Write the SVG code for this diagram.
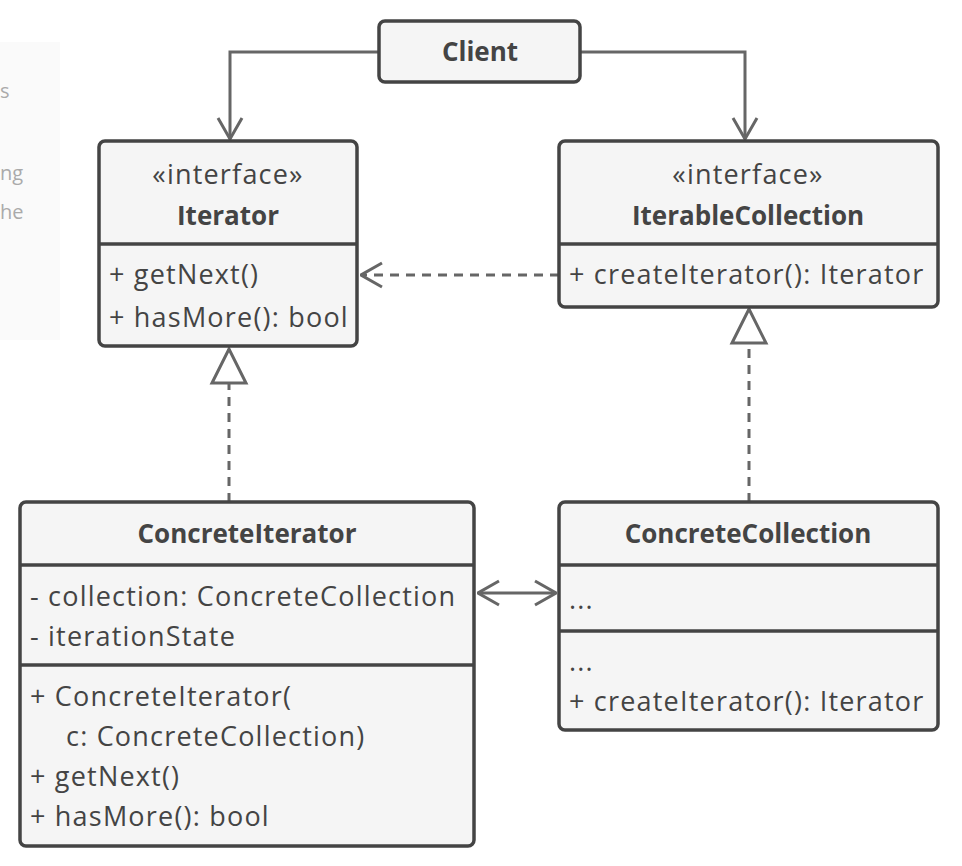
<svg xmlns="http://www.w3.org/2000/svg" width="962" height="866" viewBox="0 0 962 866">
<style>
.box{fill:#f5f5f5;stroke:#444;stroke-width:3.5}
.div{stroke:#444;stroke-width:3.5}
.t{font-family:"Open Sans","DejaVu Sans",sans-serif;font-size:27px;fill:#444;letter-spacing:1.2px}
.b{font-size:26px;font-weight:bold;text-anchor:middle;letter-spacing:0}
.c{text-anchor:middle}
.ln{fill:none;stroke:#666;stroke-width:3}
.d{stroke-dasharray:9 7}
.f{font-family:"Open Sans",sans-serif;font-size:20px;fill:#aaa}
</style>
<defs>
<marker id="open" viewBox="0 0 24 30" refX="23" refY="15" markerWidth="24" markerHeight="30" markerUnits="userSpaceOnUse" orient="auto-start-reverse">
<path d="M2 3 L23 15 L2 27" fill="none" stroke="#666" stroke-width="3"/>
</marker>
<marker id="tri" viewBox="0 0 40 40" refX="38" refY="20" markerWidth="40" markerHeight="40" markerUnits="userSpaceOnUse" orient="auto">
<path d="M4 3 L38 20 L4 37 Z" fill="#fff" stroke="#666" stroke-width="3"/>
</marker>
</defs>
<rect x="0" y="42" width="60" height="298" fill="#fafafa"/>
<text class="f" x="0" y="98">s</text>
<text class="f" x="0" y="180">ng</text>
<text class="f" x="0" y="219">he</text>
<g id="connectors">
<path class="ln" d="M379 52 H230 V139" marker-end="url(#open)"/>
<path class="ln" d="M580 52 H745 V139" marker-end="url(#open)"/>
<path class="ln d" d="M559 275 H361" marker-end="url(#open)"/>
<path class="ln d" d="M229 502 V349" marker-end="url(#tri)"/>
<path class="ln d" d="M749 502 V309" marker-end="url(#tri)"/>
<path class="ln" d="M478 593 H556" marker-start="url(#open)" marker-end="url(#open)"/>
</g>
<g id="client">
<rect class="box" x="379" y="21" width="201" height="61" rx="6"/>
<text class="t b" x="480" y="61">Client</text>
</g>
<g id="iterator">
<rect class="box" x="99" y="141" width="258" height="205" rx="6"/>
<line class="div" x1="99" y1="244" x2="357" y2="244"/>
<text class="t c" x="228" y="184">«interface»</text>
<text class="t b" x="228" y="225">Iterator</text>
<text class="t" x="109" y="284">+ getNext()</text>
<text class="t" x="109" y="327">+ hasMore(): bool</text>
</g>
<g id="iterableCollection">
<rect class="box" x="559" y="141" width="379" height="166" rx="6"/>
<line class="div" x1="559" y1="244" x2="938" y2="244"/>
<text class="t c" x="748" y="184">«interface»</text>
<text class="t b" x="748" y="225">IterableCollection</text>
<text class="t" x="569" y="284">+ createIterator(): Iterator</text>
</g>
<g id="concreteIterator">
<rect class="box" x="20" y="502" width="454" height="344" rx="6"/>
<line class="div" x1="20" y1="565" x2="474" y2="565"/>
<line class="div" x1="20" y1="665" x2="474" y2="665"/>
<text class="t b" x="247" y="543">ConcreteIterator</text>
<text class="t" x="30" y="606">- collection: ConcreteCollection</text>
<text class="t" x="30" y="646">- iterationState</text>
<text class="t" x="30" y="706">+ ConcreteIterator(</text>
<text class="t" x="66" y="746">c: ConcreteCollection)</text>
<text class="t" x="30" y="786">+ getNext()</text>
<text class="t" x="30" y="826">+ hasMore(): bool</text>
</g>
<g id="concreteCollection">
<rect class="box" x="559" y="502" width="379" height="228" rx="6"/>
<line class="div" x1="559" y1="565" x2="938" y2="565"/>
<line class="div" x1="559" y1="631" x2="938" y2="631"/>
<text class="t b" x="748" y="543">ConcreteCollection</text>
<text class="t" x="569" y="609">...</text>
<text class="t" x="569" y="671">...</text>
<text class="t" x="569" y="711">+ createIterator(): Iterator</text>
</g>
</svg>
